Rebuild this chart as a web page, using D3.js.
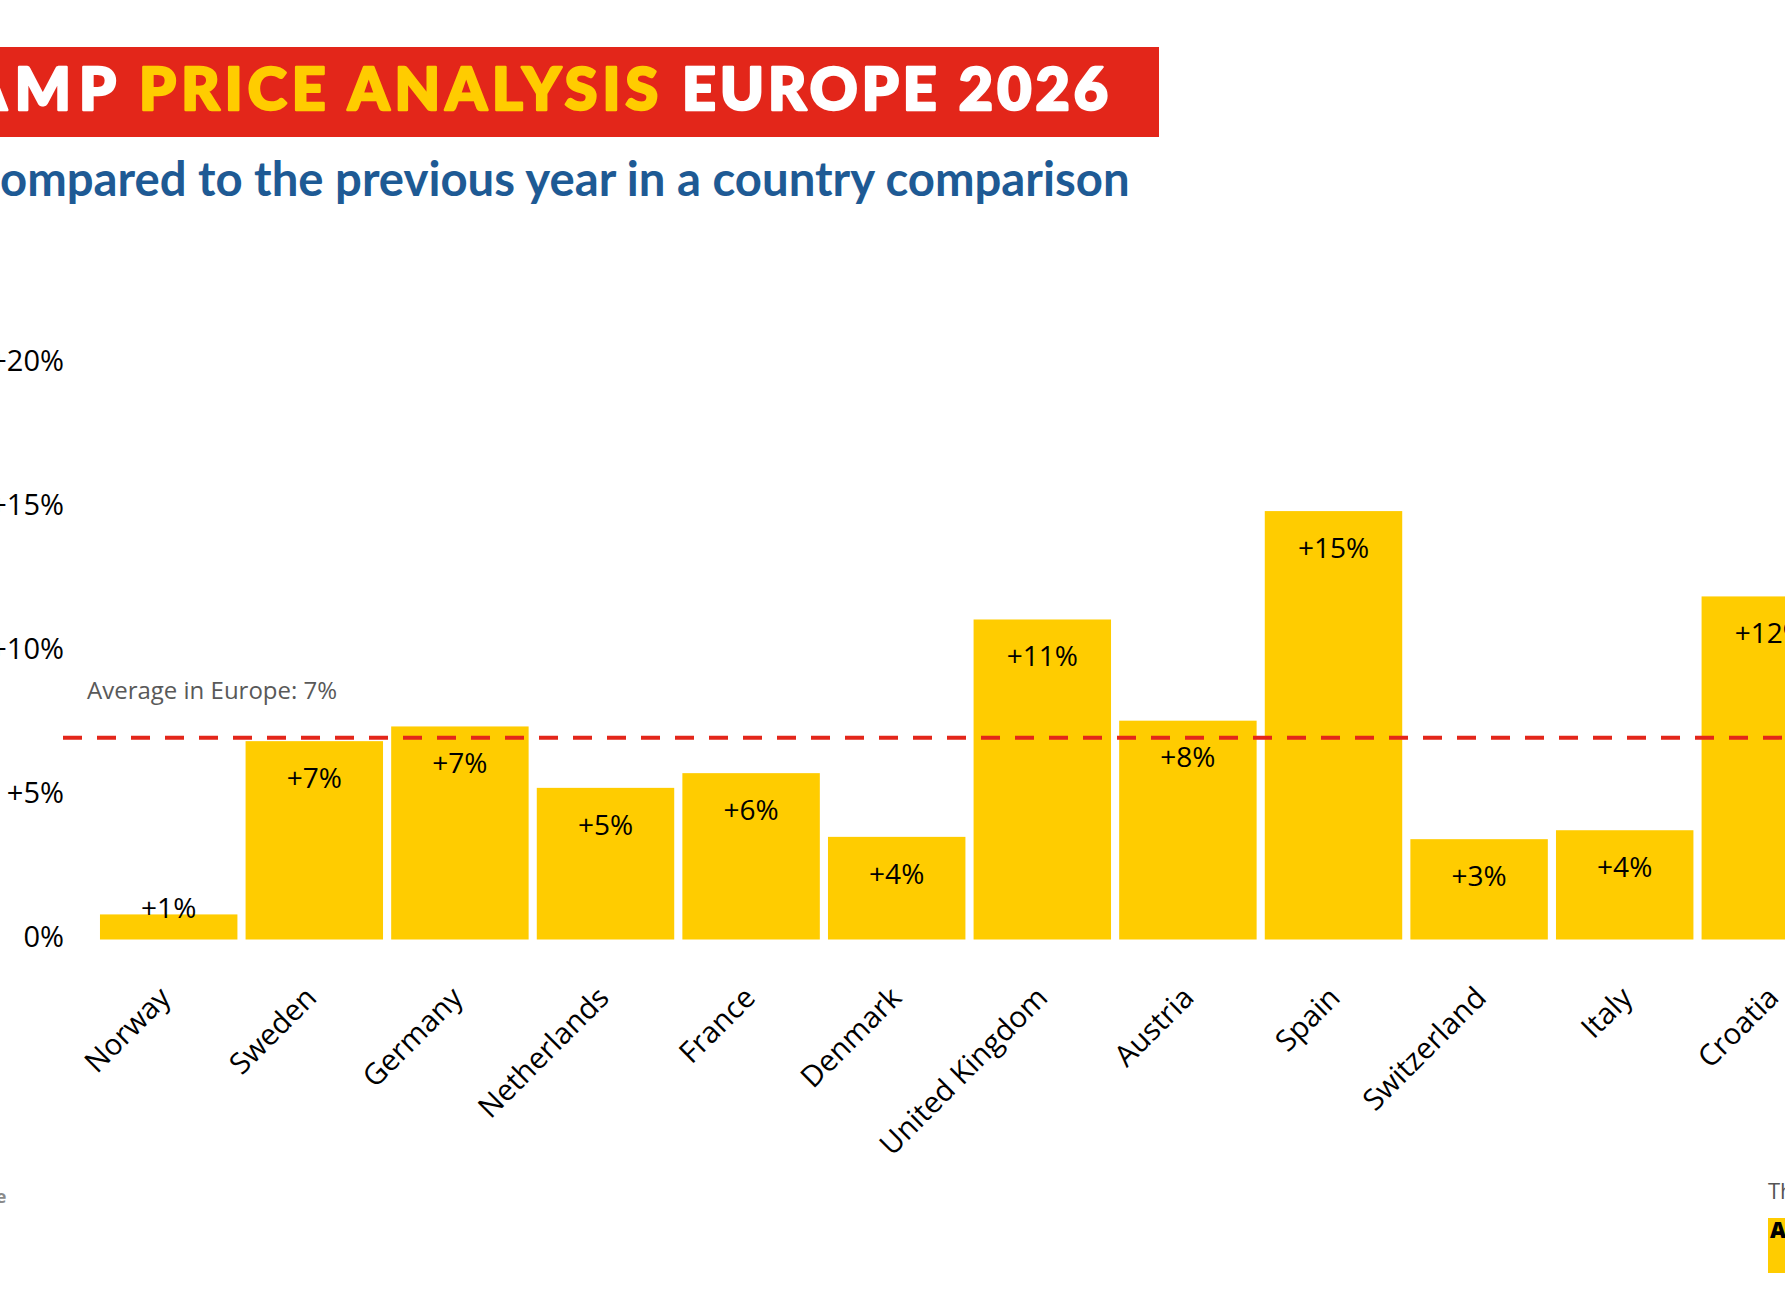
<!DOCTYPE html>
<html><head><meta charset="utf-8">
<script src="https://cdn.jsdelivr.net/npm/d3@7"></script>
<style>html,body{margin:0;padding:0;background:#fff;overflow:hidden}</style>
</head><body>
<svg id="chart" width="1785" height="1311" xmlns="http://www.w3.org/2000/svg"></svg>
<script>
// ---- data ----
const countries = ["Norway","Sweden","Germany","Netherlands","France","Denmark","United Kingdom","Austria","Spain","Switzerland","Italy","Croatia"];
const changePct = [0.87,6.88,7.39,5.26,5.77,3.56,11.1,7.59,14.86,3.48,3.79,11.9];
const yTicks = [0,5,10,15,20];
const yTickLabels = ["0%","+5%","+10%","+15%","+20%"];
const europeAverage = 7;
const averageLabel = "Average in Europe: 7%";
const titleParts = ["AMP","PRICE ANALYSIS","EUROPE 2026"];
const subtitleText = "ompared to the previous year in a country comparison";
const footLeft = "Source";
const footRightTop = "Th";
const footRightBox = "A";

const rows = countries.map((c,i)=>({country:c, value:changePct[i]}));

const RED = "#e3261a", YELLOW = "#ffcc00", BLUE = "#1e5a94";
const svg = d3.select("#chart");

// ---- header ----
svg.append("rect").attr("x",0).attr("y",47).attr("width",1159).attr("height",90).attr("fill",RED);

const titleFont = "Lato, 'Open Sans', sans-serif";
const tFS = 59;
function mk(txt, color){
  return svg.append("text").text(txt).attr("y",110)
    .attr("font-family",titleFont).attr("font-weight",900).attr("font-size",tFS)
    .attr("fill",color).attr("stroke",color).attr("stroke-width",2.6).attr("stroke-linejoin","round");
}
// fit each word group between its left/right edges
function fit(sel, x0, x1, n){
  const w = sel.node().getComputedTextLength();
  const l = (x1 - x0 - w)/(n-1);
  sel.attr("letter-spacing", l).attr("x", x0);
  return l;
}
const t3 = mk(titleParts[2],"#fff"); fit(t3, 682, 1108, titleParts[2].length);
const t2 = mk(titleParts[1],YELLOW); fit(t2, 139, 658, titleParts[1].length);
const t1 = mk(titleParts[0],"#fff");
const w1 = t1.node().getComputedTextLength();
const l1 = (w1*1.12 - w1)/2;
t1.attr("letter-spacing", l1).attr("x", 116 - (w1 + 2*l1));

const sub = svg.append("text").text(subtitleText).attr("y",196)
  .attr("font-family","Lato, sans-serif").attr("font-weight",700).attr("font-size",40).attr("fill",BLUE);
const sw = sub.node().getComputedTextLength();
sub.attr("font-size",40*1130/sw).attr("x",0);

// ---- scales ----
const x = d3.scaleBand().domain(countries).range([95.9, 95.9+12*145.6]).paddingInner(0.056).paddingOuter(0.028);
const y = d3.scaleLinear().domain([0,20]).range([939.5,362.9]);

// y axis
const yAxis = svg.append("g").attr("transform","translate(64,-2)")
  .call(d3.axisLeft(y).tickValues(yTicks).tickFormat((d,i)=>yTickLabels[i]).tickSize(0).tickPadding(0));
yAxis.select(".domain").remove();
yAxis.selectAll("text").attr("font-family","'Open Sans', sans-serif").attr("font-size",29).attr("fill","#000");

// bars
svg.append("g").selectAll("rect").data(rows).join("rect")
  .attr("x",d=>x(d.country)).attr("y",d=>y(d.value))
  .attr("width",x.bandwidth()).attr("height",d=>y(0)-y(d.value))
  .attr("fill",YELLOW);

// average line
svg.append("line").attr("x1",63).attr("x2",1785).attr("y1",y(europeAverage)).attr("y2",y(europeAverage))
  .attr("stroke",RED).attr("stroke-width",4).attr("stroke-dasharray","19,15");
svg.append("text").text(averageLabel).attr("x",87).attr("y",691).attr("dy","0.35em")
  .attr("font-family","'Open Sans', sans-serif").attr("font-size",24).attr("fill","#595959");

// value labels
svg.append("g").selectAll("text").data(rows).join("text")
  .text(d=>"+"+Math.round(d.value)+"%")
  .attr("x",d=>x(d.country)+x.bandwidth()/2)
  .attr("y",d=>Math.min(y(d.value)+37, y(0)-31))
  .attr("dy","0.35em").attr("text-anchor","middle")
  .attr("font-family","'Open Sans', sans-serif").attr("font-size",28).attr("fill","#000");

// category labels
svg.append("g").selectAll("text").data(rows).join("text")
  .text(d=>d.country)
  .attr("transform",(d,i)=>`translate(${x(d.country)+x.bandwidth()/2+10-0.6*(11-i)},${y(0)+60}) rotate(-45)`)
  .attr("text-anchor","end")
  .attr("font-family","'Open Sans', sans-serif").attr("font-size",29.5).attr("fill","#000");

// footer
svg.append("text").text(footLeft).attr("x",6.5).attr("y",1203).attr("text-anchor","end")
  .attr("font-family","'Open Sans', sans-serif").attr("font-weight",700).attr("font-size",18).attr("fill","#8a8a8a");
svg.append("text").text(footRightTop).attr("x",1768).attr("y",1199)
  .attr("font-family","'Open Sans', sans-serif").attr("font-size",22).attr("fill","#555");
svg.append("rect").attr("x",1768).attr("y",1218).attr("width",17).attr("height",55).attr("fill",YELLOW);
svg.append("text").text(footRightBox).attr("x",1770).attr("y",1238)
  .attr("font-family","'Open Sans', sans-serif").attr("font-weight",800).attr("font-size",22).attr("fill","#000");
</script>
</body></html>
